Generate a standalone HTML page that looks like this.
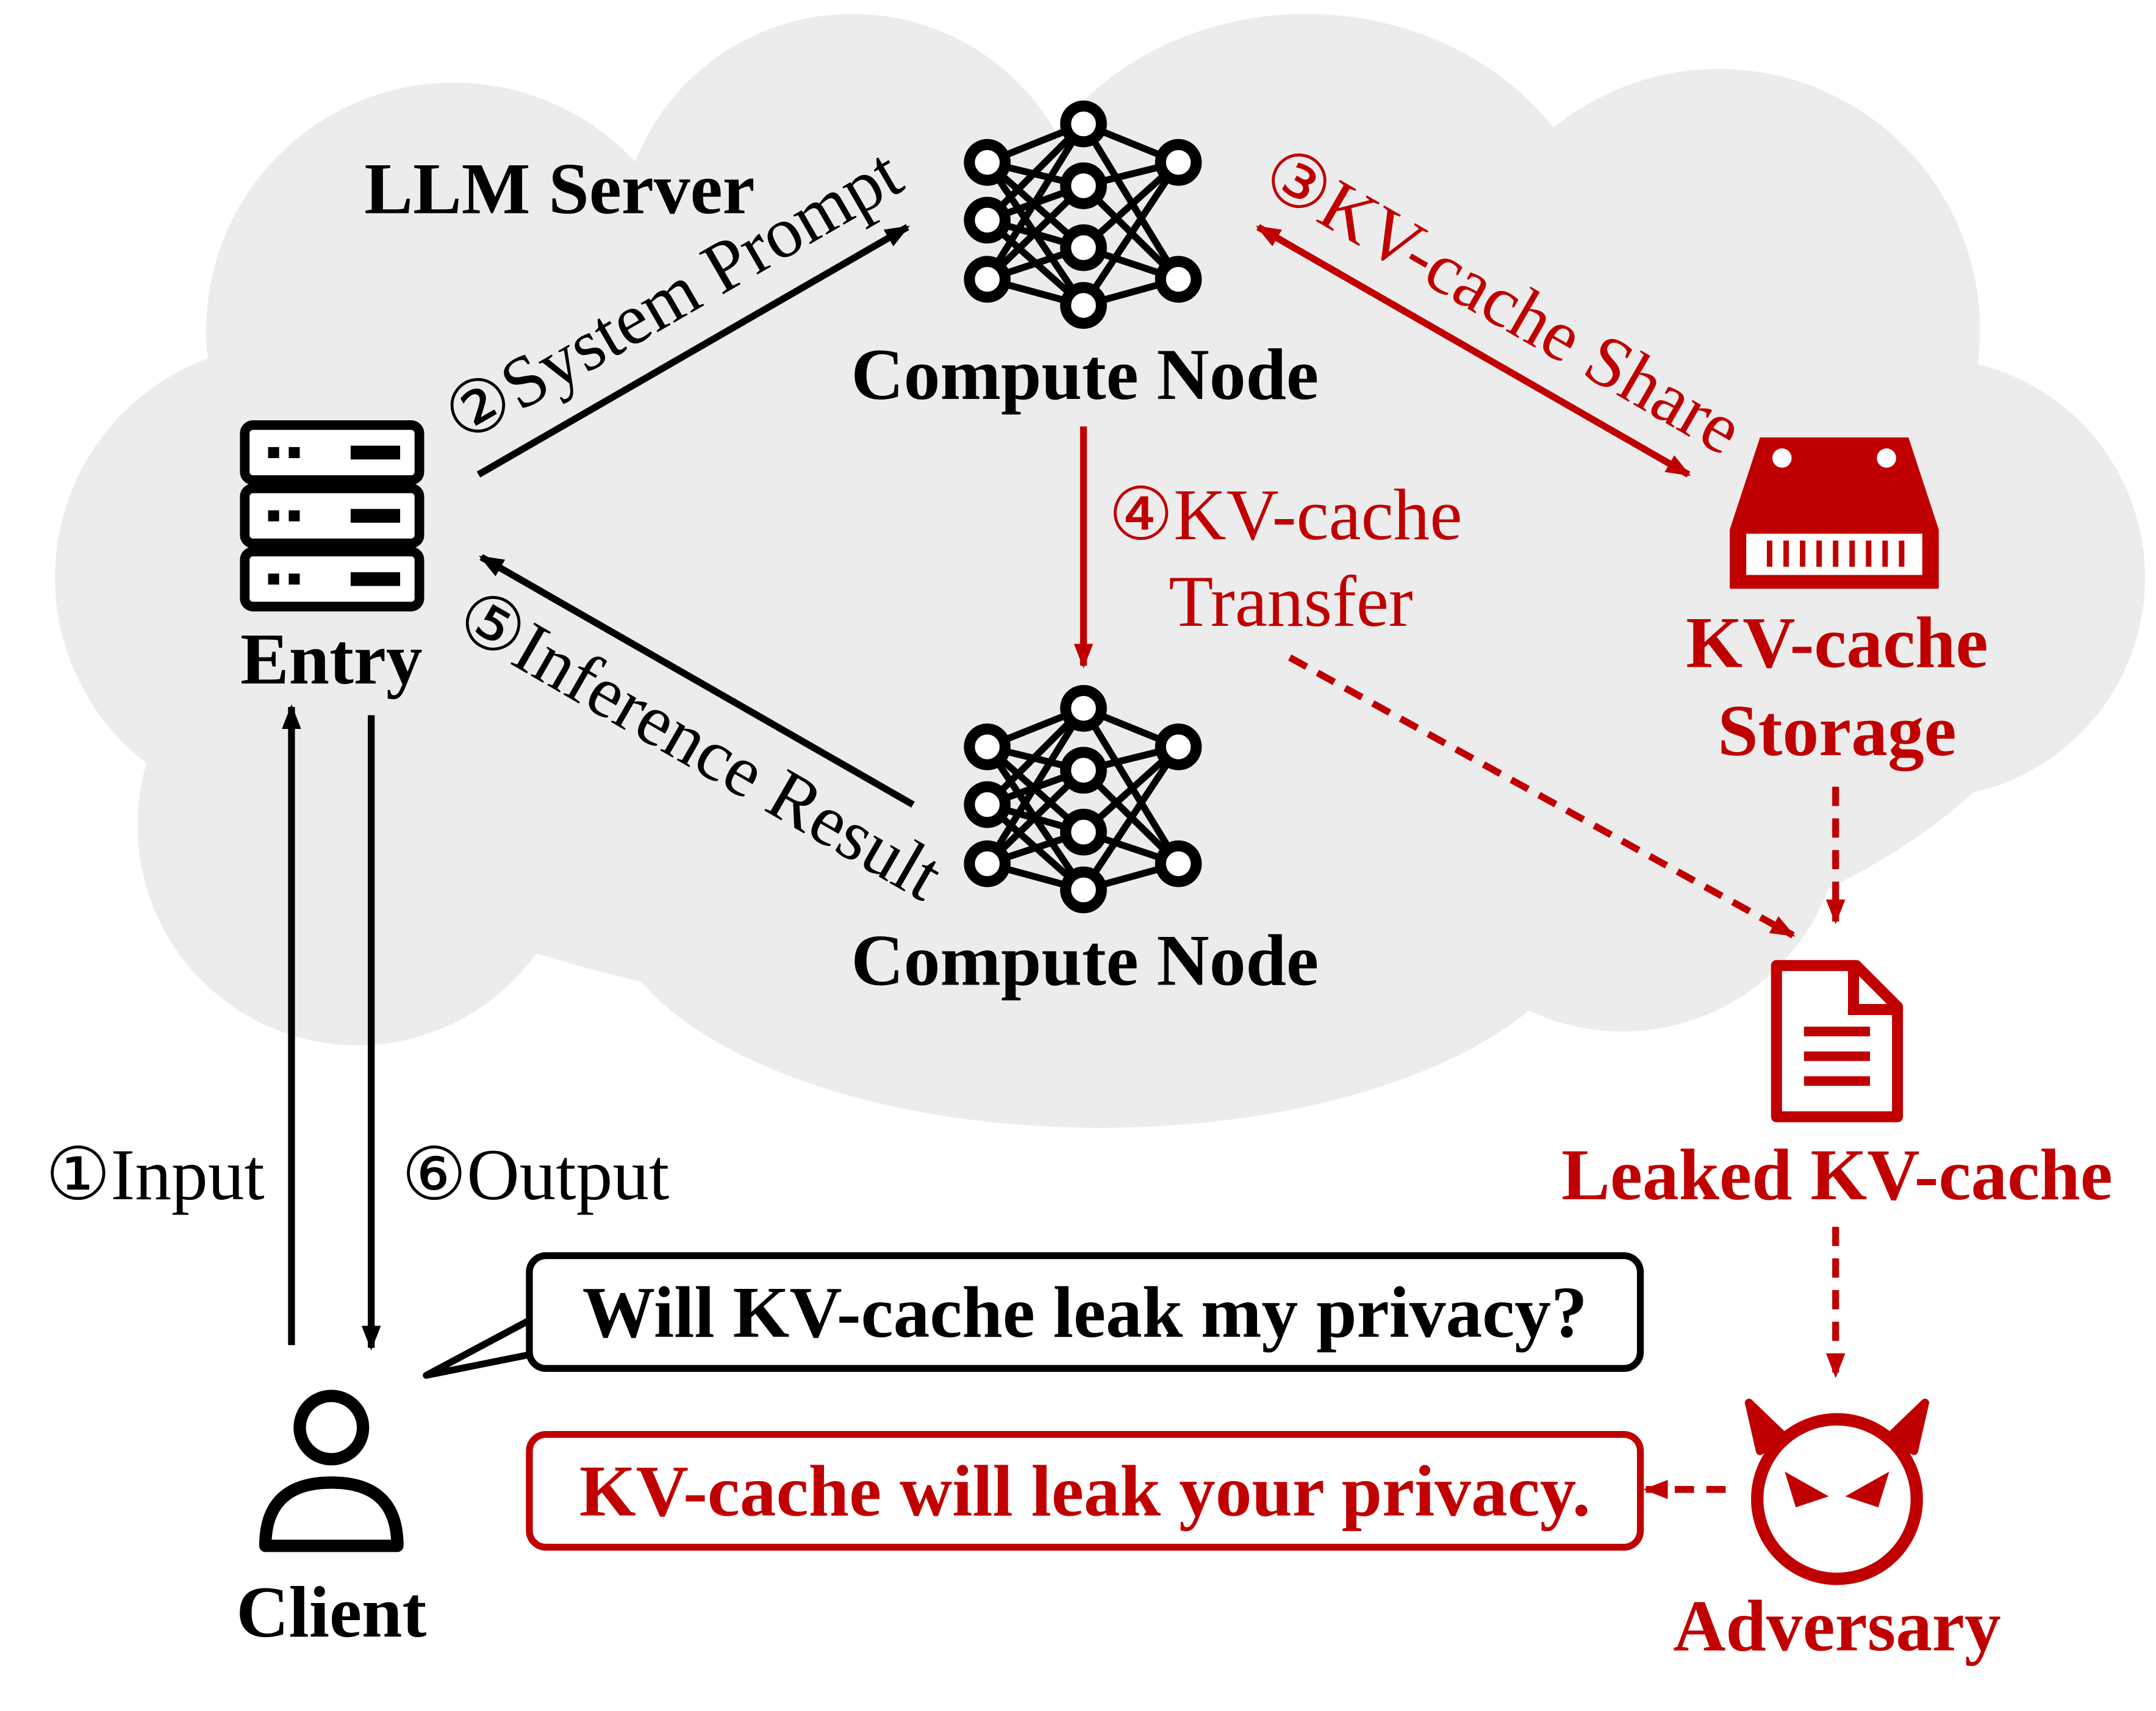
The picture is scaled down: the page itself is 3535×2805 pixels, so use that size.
<!DOCTYPE html>
<html><head><meta charset="utf-8"><style>html,body{margin:0;padding:0;background:#fff}svg{display:block}</style></head>
<body>
<svg width="3535" height="2805" viewBox="0 0 1568 1244" xmlns="http://www.w3.org/2000/svg" font-family="Liberation Serif, serif">
<defs>
<marker id="ar" markerWidth="18" markerHeight="14" refX="16" refY="7" orient="auto" markerUnits="userSpaceOnUse" viewBox="0 0 18 14"><path d="M0,0 L18,7 L0,14 z" fill="#c00000"/></marker>
<marker id="ars" markerWidth="18" markerHeight="14" refX="2" refY="7" orient="auto" markerUnits="userSpaceOnUse" viewBox="0 0 18 14"><path d="M18,0 L0,7 L18,14 z" fill="#c00000"/></marker>
<marker id="abk" markerWidth="18" markerHeight="14" refX="16" refY="7" orient="auto" markerUnits="userSpaceOnUse" viewBox="0 0 18 14"><path d="M0,0 L18,7 L0,14 z" fill="#000"/></marker>
</defs>
<g fill="#ececec">
<ellipse cx="800" cy="450" rx="700" ry="300"/>
<circle cx="330" cy="240" r="180"/>
<circle cx="620" cy="180" r="170"/>
<ellipse cx="950" cy="205" rx="220" ry="195"/>
<circle cx="1250" cy="240" r="190"/>
<circle cx="1400" cy="420" r="160"/>
<circle cx="210" cy="420" r="170"/>
<circle cx="260" cy="600" r="160"/>
<ellipse cx="800" cy="650" rx="360" ry="170"/>
<circle cx="1180" cy="590" r="160"/>
</g>
<g id="nn" stroke="#000" stroke-width="5">
<g>
<line x1="718" y1="118" x2="788" y2="90"/><line x1="718" y1="118" x2="788" y2="135"/><line x1="718" y1="118" x2="788" y2="180"/><line x1="718" y1="118" x2="788" y2="222"/>
<line x1="718" y1="160" x2="788" y2="90"/><line x1="718" y1="160" x2="788" y2="135"/><line x1="718" y1="160" x2="788" y2="180"/><line x1="718" y1="160" x2="788" y2="222"/>
<line x1="718" y1="203" x2="788" y2="90"/><line x1="718" y1="203" x2="788" y2="135"/><line x1="718" y1="203" x2="788" y2="180"/><line x1="718" y1="203" x2="788" y2="222"/>
<line x1="857" y1="118" x2="788" y2="90"/><line x1="857" y1="118" x2="788" y2="135"/><line x1="857" y1="118" x2="788" y2="180"/><line x1="857" y1="118" x2="788" y2="222"/>
<line x1="857" y1="203" x2="788" y2="90"/><line x1="857" y1="203" x2="788" y2="135"/><line x1="857" y1="203" x2="788" y2="180"/><line x1="857" y1="203" x2="788" y2="222"/>
</g>
<g fill="#fff" stroke-width="8">
<circle cx="718" cy="118" r="13"/><circle cx="718" cy="160" r="13"/><circle cx="718" cy="203" r="13"/>
<circle cx="788" cy="90" r="13"/><circle cx="788" cy="135" r="13"/><circle cx="788" cy="180" r="13"/><circle cx="788" cy="222" r="13"/>
<circle cx="857" cy="118" r="13"/><circle cx="857" cy="203" r="13"/>
</g>
</g>
<use href="#nn" transform="translate(0,425)"/>
<g stroke="#000" stroke-width="7" fill="#fff">
<rect x="178" y="309" width="127" height="40" rx="6"/>
<rect x="178" y="355" width="127" height="40" rx="6"/>
<rect x="178" y="401" width="127" height="40" rx="6"/>
</g>
<g fill="#000">
<rect x="195" y="325" width="8" height="8"/><rect x="210" y="325" width="8" height="8"/><rect x="255" y="324" width="36" height="10"/>
<rect x="195" y="371" width="8" height="8"/><rect x="210" y="371" width="8" height="8"/><rect x="255" y="370" width="36" height="10"/>
<rect x="195" y="417" width="8" height="8"/><rect x="210" y="417" width="8" height="8"/><rect x="255" y="416" width="36" height="10"/>
</g>
<path d="M1280,318 L1388,318 L1410,385 L1410,428 L1258,428 L1258,385 Z" fill="#c00000"/>
<rect x="1270" y="388" width="128" height="30" fill="#fff"/>
<g stroke="#c00000" stroke-width="4"><line x1="1287" y1="393" x2="1287" y2="412"/><line x1="1299" y1="393" x2="1299" y2="412"/><line x1="1311" y1="393" x2="1311" y2="412"/><line x1="1323" y1="393" x2="1323" y2="412"/><line x1="1335" y1="393" x2="1335" y2="412"/><line x1="1347" y1="393" x2="1347" y2="412"/><line x1="1359" y1="393" x2="1359" y2="412"/><line x1="1371" y1="393" x2="1371" y2="412"/><line x1="1383" y1="393" x2="1383" y2="412"/></g>
<circle cx="1296" cy="333" r="7" fill="#fff"/><circle cx="1372" cy="333" r="7" fill="#fff"/>
<path d="M1292,702 L1350,702 L1380,732 L1380,812 L1292,812 Z" fill="none" stroke="#c00000" stroke-width="8" stroke-linejoin="round"/>
<path d="M1348,702 L1348,734 L1380,734" fill="none" stroke="#c00000" stroke-width="8"/>
<g stroke="#c00000" stroke-width="7"><line x1="1312" y1="750" x2="1360" y2="750"/><line x1="1312" y1="768" x2="1360" y2="768"/><line x1="1312" y1="786" x2="1360" y2="786"/></g>
<path d="M1272,1020 L1280,1055 L1298,1045 Z M1400,1020 L1392,1055 L1374,1045 Z" fill="#c00000" stroke="#c00000" stroke-width="6" stroke-linejoin="round"/>
<circle cx="1336" cy="1090" r="58" fill="none" stroke="#c00000" stroke-width="9"/>
<path d="M1298,1070 L1330,1088 L1306,1096 Z M1374,1070 L1342,1088 L1366,1096 Z" fill="#c00000"/>
<circle cx="241" cy="1038" r="23" fill="none" stroke="#000" stroke-width="9"/>
<path d="M193,1124 Q193,1078 241,1078 Q289,1078 289,1124 Z" fill="none" stroke="#000" stroke-width="9" stroke-linejoin="round"/>
<g stroke="#000" stroke-width="5" fill="none">
<line x1="348" y1="345" x2="660" y2="165" marker-end="url(#abk)"/>
<line x1="664" y1="585" x2="350" y2="405" marker-end="url(#abk)"/>
<line x1="212" y1="978" x2="212" y2="514" marker-end="url(#abk)"/>
<line x1="270" y1="520" x2="270" y2="980" marker-end="url(#abk)"/>
</g>
<g stroke="#c00000" stroke-width="5" fill="none">
<line x1="915" y1="165" x2="1228" y2="345" marker-start="url(#ars)" marker-end="url(#ar)"/>
<line x1="788" y1="310" x2="788" y2="484" marker-end="url(#ar)"/>
<g stroke-dasharray="14,9">
<line x1="938" y1="478" x2="1304" y2="680" marker-end="url(#ar)"/>
<line x1="1335" y1="572" x2="1335" y2="670" marker-end="url(#ar)"/>
<line x1="1335" y1="892" x2="1335" y2="1000" marker-end="url(#ar)"/>
<line x1="1255" y1="1083" x2="1197" y2="1083" marker-end="url(#ar)"/>
</g>
</g>
<path d="M385,960 L310,1000 L385,985" fill="#fff" stroke="#000" stroke-width="5" stroke-linejoin="round"/>
<rect x="385" y="913" width="808" height="82" rx="12" fill="#fff" stroke="#000" stroke-width="5"/>
<rect x="385" y="1043" width="808" height="82" rx="12" fill="#fff" stroke="#c00000" stroke-width="5"/>
<g font-weight="bold" font-size="53" fill="#000">
<text x="265" y="155">LLM Server</text>
<text x="789" y="290" text-anchor="middle">Compute Node</text>
<text x="789" y="716" text-anchor="middle">Compute Node</text>
<text x="241" y="497" text-anchor="middle">Entry</text>
<text x="241" y="1190" text-anchor="middle">Client</text>
<text x="789" y="972" text-anchor="middle">Will KV-cache leak my privacy?</text>
</g>
<g font-weight="bold" font-size="53" fill="#c00000" text-anchor="middle">
<text x="1336" y="485">KV-cache</text>
<text x="1336" y="549">Storage</text>
<text x="1336" y="872">Leaked KV-cache</text>
<text x="1336" y="1200">Adversary</text>
<text x="789" y="1102">KV-cache will leak your privacy.</text>
</g>
<g font-size="53">
<text transform="translate(498,230) rotate(-30)" text-anchor="middle">②System Prompt</text>
<text transform="translate(500,557) rotate(30)" text-anchor="middle">⑤Inference Result</text>
<text transform="translate(1084,234) rotate(30)" text-anchor="middle" fill="#c00000">③KV-cache Share</text>
<text x="806" y="392" fill="#c00000">④KV-cache</text>
<text x="850" y="455" fill="#c00000">Transfer</text>
<text x="33" y="872">①Input</text>
<text x="292" y="872">⑥Output</text>
</g>
</svg>
</body></html>
